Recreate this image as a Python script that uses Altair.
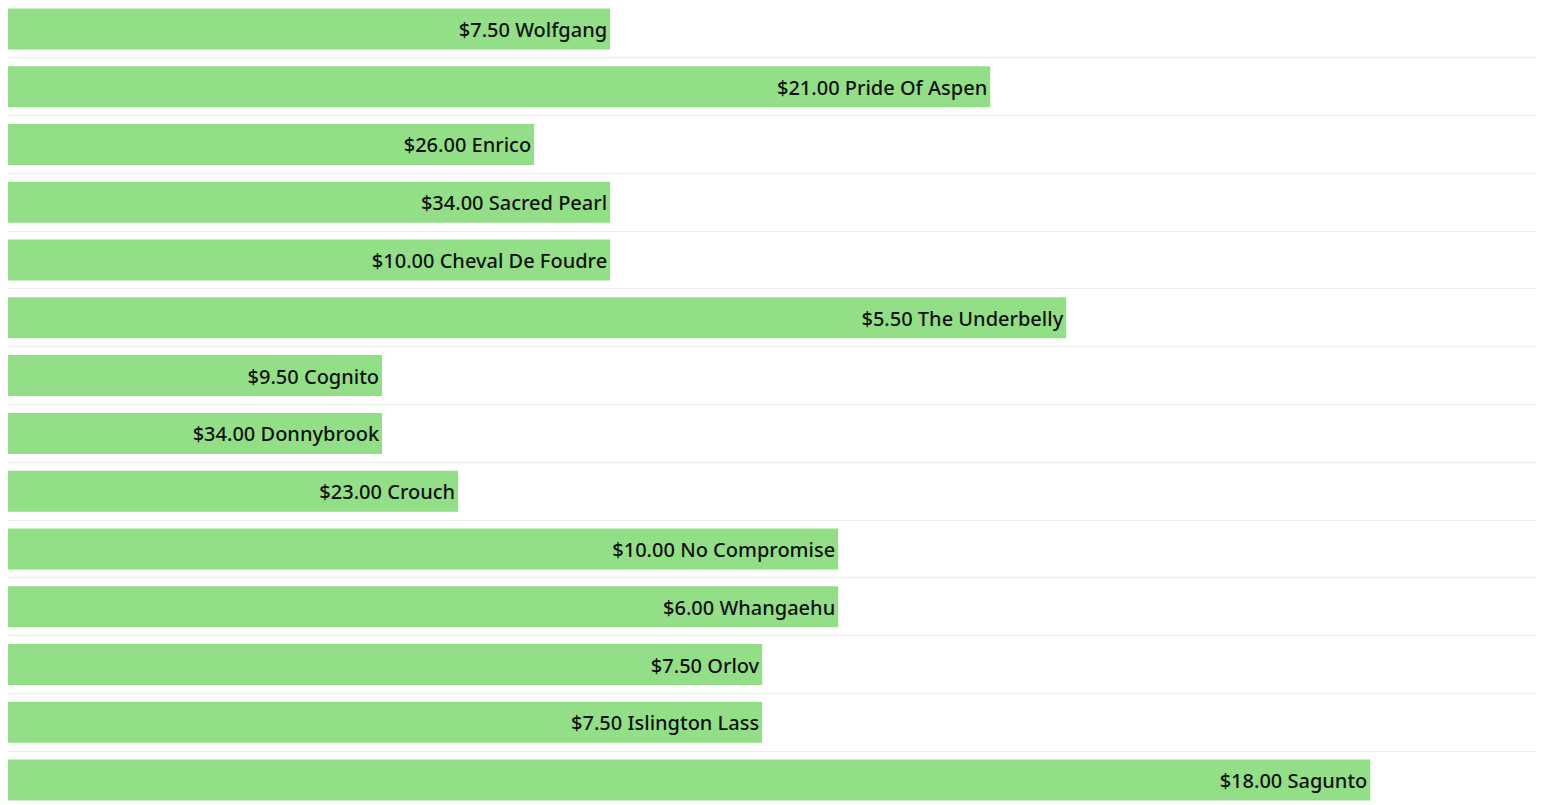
import altair as alt
import pandas as pd

names = ["Wolfgang", "Pride Of Aspen", "Enrico", "Sacred Pearl", "Cheval De Foudre",
         "The Underbelly", "Cognito", "Donnybrook", "Crouch", "No Compromise",
         "Whangaehu", "Orlov", "Islington Lass", "Sagunto"]
prices = ["$7.50", "$21.00", "$26.00", "$34.00", "$10.00", "$5.50", "$9.50",
          "$34.00", "$23.00", "$10.00", "$6.00", "$7.50", "$7.50", "$18.00"]
values = [8, 13, 7, 8, 8, 14, 5, 5, 6, 11, 11, 10, 10, 18]

df = pd.DataFrame({"name": names, "price": prices, "value": values})
df["label"] = df["price"] + " " + df["name"]

x = alt.X("value:Q", axis=None, scale=alt.Scale(domain=[0, 20.18], nice=False))
y = alt.Y("name:N", sort=names, title=None,
          scale=alt.Scale(paddingInner=0, paddingOuter=0),
          axis=alt.Axis(labels=False, ticks=False, domain=False, grid=True,
                        bandPosition=0, gridColor="#eeeeee", gridWidth=1))

bars = alt.Chart(df).mark_bar(color="#93df87", height={"band": 0.71}).encode(x=x, y=y)
text = alt.Chart(df).mark_text(align="right", baseline="middle", dx=-3, dy=2,
                               font="Noto Sans", fontSize=20, fontWeight=500,
                               color="#111111").encode(
    x=x, y=y, text="label:N")

chart = (bars + text).properties(
    width=1534, height=809,
    padding={"left": -6, "top": -8, "right": 0, "bottom": 0},
).configure_view(stroke=None)

chart.save("out.html", embed_options={"renderer": "svg", "actions": False})
